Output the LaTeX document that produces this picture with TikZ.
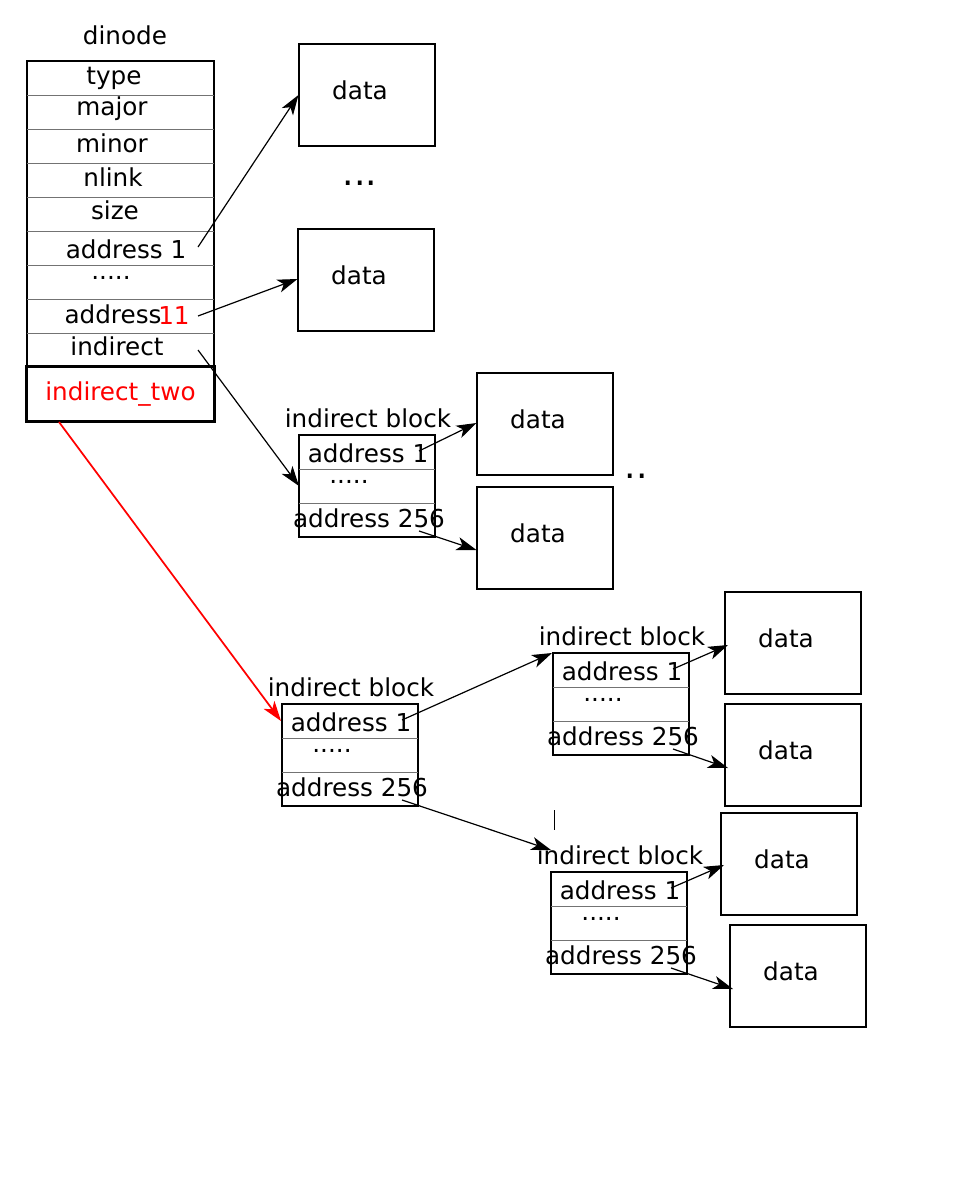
\documentclass[tikz,border=0pt]{standalone}
\usepackage{fontspec}
\setmainfont{DejaVu Sans}
\usetikzlibrary{arrows.meta}
\begin{document}
\begin{tikzpicture}[x=0.75pt,y=-0.75pt,
  every node/.style={font=\fontsize{18.5}{20}\selectfont,inner sep=0pt},
  box/.style={draw,line width=0.8pt,minimum width=102pt,minimum height=76.5pt},
  arr/.style={-{Stealth[length=15pt,width=10pt,inset=4pt]},line width=0.9pt},
  row/.style={draw=black!55,line width=0.7pt}]
\useasboundingbox (0,0) rectangle (973,1181);
% dinode
\node (dl) at (125,35) {dinode};
\draw[line width=0.8pt] (27,61) rectangle (214,366);
\foreach \y in {95,129,163,197,231,265,299,333} \draw[row] (27,\y) -- (214,\y);
\node[draw,line width=1.8pt,minimum width=141pt,minimum height=41pt,text=red] (two) at (120.5,394) {indirect\_two};
\node at (114,78) {type};
\node at (112,109) {major};
\node at (112,143) {minor};
\node at (113,177) {nlink};
\node at (115,210) {size};
\node at (126,249) {address 1};
\node at (111,278) {.....};
\node at (113,314) {address};
\node[text=red] at (174,316) {11};
\node at (117,346) {indirect};
\coordinate (s1) at (198,247);
\coordinate (s11) at (198,316);
\coordinate (si) at (198,350);
\coordinate (s2) at (59,422);
% data boxes
\node[box] (d1) at (367,95) {};
\node[box] (d2) at (366,280) {};
\node[box] (d3) at (545,424) {};
\node[box] (d4) at (545,538) {};
\node[box] (d5) at (793,643) {};
\node[box] (d6) at (793,755) {};
\node[box] (d7) at (789,864) {};
\node[box] (d8) at (798,976) {};
\foreach \x/\y in {360/90, 359/275, 538/419, 538/533, 786/638, 786/750, 782/859, 791/971} \node at (\x,\y) {data};
\node[font=\fontsize{27}{29}\selectfont] (el1) at (360,183) {...};
\node[font=\fontsize{27}{29}\selectfont] (el2) at (636,476) {..};
% indirect blocks
\foreach \n/\x/\y in {b1/299/435, b2/282/704, b3/553/653, b4/551/872}{
  \draw[line width=0.8pt] (\x,\y) rectangle ++(136,102);
  \draw[row] (\x,\y+34) -- ++(136,0);
  \draw[row] (\x,\y+68) -- ++(136,0);
  \node (\n-l) at (\x+69,\y-17) {indirect block};
  \node (\n-a) at (\x+69,\y+18) {address 1};
  \node (\n-d) at (\x+50,\y+47) {.....};
  \node (\n-z) at (\x+70,\y+83) {address 256};
  \coordinate (\n-s1) at (\x+120,\y+16);
  \coordinate (\n-s2) at (\x+120,\y+96);
}
\draw[line width=0.6pt] (554,810) -- (554,830);
\coordinate (b1w) at (299,486);
\coordinate (b2w) at (281,721);
\coordinate (b3w) at (552,653);
\coordinate (b4w) at (551,850);
% arrows
\draw[arr] (s1) -- (d1.west);
\draw[arr] (s11) -- ([yshift=0.75pt]d2.west);
\draw[arr] (si) -- (b1w);
\draw[arr,red,line width=1.3pt] (s2) -- (b2w);
\draw[arr] (b1-s1) -- ([yshift=0.75pt]d3.west);
\draw[arr] (b1-s2) -- ([yshift=-9pt]d4.west);
\draw[arr] (b2-s1) -- (b3w);
\draw[arr] (b2-s2) -- (b4w);
\draw[arr] (b3-s1) -- (728,645);
\draw[arr] (b3-s2) -- (728,768);
\draw[arr] (b4-s1) -- (724,865);
\draw[arr] (b4-s2) -- (733,989);
\end{tikzpicture}
\end{document}
